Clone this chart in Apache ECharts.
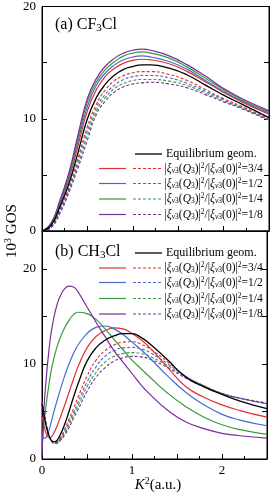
<!DOCTYPE html>
<html><head><meta charset="utf-8">
<script src="https://cdn.jsdelivr.net/npm/echarts@6/dist/echarts.min.js"></script>
<style>html,body{margin:0;padding:0;background:#fff}#c{width:270px;height:495px}</style>
</head><body><div id="c"></div><script>
// ---- Panel (a) CF3Cl ----
const kA = [0, 0.1, 0.2, 0.3, 0.4, 0.5, 0.6, 0.7, 0.8, 0.9, 1.0, 1.1, 1.2, 1.4, 1.6, 1.8, 2.0, 2.2, 2.5];
const aEq  = [0, 0.5, 2.2, 4.3, 7.1, 10.0, 11.9, 13.1, 13.9, 14.4, 14.65, 14.8, 14.8, 14.5, 13.9, 13.0, 12.1, 11.3, 10.1];
const aS34 = [0, 0.55, 2.4, 4.7, 7.7, 10.7, 12.6, 13.8, 14.5, 14.95, 15.2, 15.3, 15.25, 14.9, 14.2, 13.3, 12.35, 11.5, 10.4];
const aS12 = [0, 0.6, 2.5, 4.9, 8.1, 11.1, 13.0, 14.1, 14.8, 15.25, 15.5, 15.6, 15.5, 15.1, 14.4, 13.4, 12.45, 11.6, 10.5];
const aS14 = [0, 0.65, 2.7, 5.1, 8.4, 11.5, 13.3, 14.4, 15.1, 15.6, 15.85, 15.95, 15.85, 15.4, 14.6, 13.6, 12.6, 11.7, 10.6];
const aS18 = [0, 0.7, 2.8, 5.3, 8.7, 11.8, 13.6, 14.7, 15.4, 15.85, 16.1, 16.2, 16.1, 15.6, 14.8, 13.8, 12.7, 11.8, 10.7];
const aD34 = [0, 0.45, 2.0, 4.0, 6.6, 9.3, 11.3, 12.6, 13.4, 13.85, 14.1, 14.2, 14.2, 13.95, 13.4, 12.6, 11.8, 11.1, 10.0];
const aD12 = [0, 0.4, 1.9, 3.8, 6.3, 8.9, 11.0, 12.2, 13.0, 13.5, 13.75, 13.85, 13.85, 13.65, 13.15, 12.45, 11.7, 11.0, 9.95];
const aD14 = [0, 0.35, 1.75, 3.65, 6.0, 8.5, 10.7, 11.9, 12.7, 13.15, 13.4, 13.5, 13.5, 13.35, 12.95, 12.3, 11.6, 10.95, 9.9];
const aD18 = [0, 0.3, 1.6, 3.5, 5.7, 8.1, 10.4, 11.6, 12.4, 12.85, 13.1, 13.2, 13.25, 13.1, 12.75, 12.15, 11.5, 10.9, 9.85];

// ---- Panel (b) CH3Cl ----
const kB = [0, 0.02, 0.05, 0.08, 0.1, 0.13, 0.16, 0.2, 0.25, 0.3, 0.35, 0.4, 0.5, 0.6, 0.7, 0.8, 0.9, 1.0, 1.1, 1.2, 1.4, 1.6, 1.8, 2.0, 2.2, 2.5];
const bEq  = [5.8, 4.8, 3.3, 2.4, 2.0, 1.8, 1.9, 2.5, 3.6, 5.0, 6.5, 7.9, 10.3, 11.7, 12.5, 12.95, 13.2, 13.2, 12.8, 12.1, 10.4, 8.6, 7.6, 6.8, 6.1, 5.3];
const bS34 = [4.5, 3.6, 2.6, 2.25, 2.3, 2.7, 3.3, 4.3, 5.6, 7.0, 8.4, 9.7, 11.7, 12.9, 13.5, 13.8, 13.7, 13.2, 12.55, 11.7, 9.6, 7.6, 6.5, 5.7, 5.1, 4.4];
const bS12 = [3.0, 2.2, 2.3, 3.1, 3.8, 4.9, 5.9, 7.2, 8.7, 10.0, 11.1, 12.0, 13.2, 13.85, 14.0, 13.7, 13.1, 12.3, 11.5, 10.6, 8.7, 7.0, 5.7, 4.7, 4.1, 3.5];
const bS14 = [1.0, 3.5, 6.0, 8.0, 9.2, 10.5, 11.6, 12.7, 13.8, 14.6, 15.2, 15.45, 15.3, 14.7, 13.7, 12.6, 11.5, 10.4, 9.5, 8.6, 6.9, 5.5, 4.4, 3.6, 3.1, 2.6];
const bS18 = [0.3, 5.0, 8.8, 11.7, 13.2, 14.8, 16.0, 17.1, 17.9, 18.2, 18.1, 17.6, 16.0, 14.4, 12.9, 11.4, 10.2, 9.0, 7.8, 6.8, 5.1, 3.9, 3.2, 2.7, 2.45, 2.2];
const bD34 = [6.0, 5.0, 3.5, 2.5, 2.1, 1.75, 1.8, 2.2, 3.1, 4.2, 5.3, 6.5, 8.7, 10.4, 11.4, 12.0, 12.3, 12.35, 12.1, 11.6, 10.2, 8.7, 7.7, 6.9, 6.4, 5.8];
const bD12 = [6.0, 5.0, 3.5, 2.5, 2.05, 1.7, 1.75, 2.1, 2.9, 3.9, 4.9, 6.0, 8.1, 9.7, 10.8, 11.4, 11.7, 11.75, 11.6, 11.2, 10.0, 8.7, 7.7, 6.9, 6.4, 5.8];
const bD14 = [6.0, 5.0, 3.5, 2.45, 2.0, 1.7, 1.7, 2.0, 2.7, 3.6, 4.6, 5.6, 7.6, 9.1, 10.2, 10.8, 11.1, 11.2, 11.1, 10.8, 9.8, 8.6, 7.7, 6.9, 6.4, 5.9];
const bD18 = [6.0, 5.0, 3.5, 2.4, 2.0, 1.65, 1.65, 1.9, 2.5, 3.3, 4.3, 5.2, 7.1, 8.6, 9.6, 10.3, 10.65, 10.8, 10.75, 10.5, 9.6, 8.5, 7.6, 6.9, 6.4, 5.9];

// ---- Axis tick labels & legend text ----
const yTickLabels = [0, 10, 20];
const xTickLabels = [0, 1, 2];
const fracs = ['3/4', '1/2', '1/4', '1/8'];
const eqLabel = 'Equilibrium geom.';

const SERIF = "'Liberation Serif','DejaVu Serif',serif";
const colors = ['#e3302f', '#4a6cc8', '#3d983d', '#7a2e9c'];
const BLACK = '#000';

function pairs(k, v) { return k.map((x, i) => [x, v[i]]); }

const chart = echarts.init(document.getElementById('c'), null, {renderer: 'canvas'});

function line(grid, k, v, color, width, dash) {
  return {
    type: 'line', xAxisIndex: grid, yAxisIndex: grid, data: pairs(k, v), showSymbol: false,
    smooth: true, silent: true,
    lineStyle: {color: color, width: width, type: dash ? [3, 2] : 'solid', cap: 'butt', join: 'round'}
  };
}
function mkSeries(grid, k, eq, solids, dashes) {
  const out = [];
  dashes.forEach((d, i) => out.push(line(grid, k, d, colors[i], 1.1, true)));
  solids.forEach((s, i) => out.push(line(grid, k, s, colors[i], 1.2, false)));
  out.push(line(grid, k, eq, BLACK, 1.3, false));
  return out;
}

const series = [].concat(
  mkSeries(0, kA, aEq, [aS34, aS12, aS14, aS18], [aD34, aD12, aD14, aD18]),
  mkSeries(1, kB, bEq, [bS34, bS12, bS14, bS18], [bD34, bD12, bD14, bD18])
);

function xAx(grid, showLabel) {
  return {
    type: 'value', gridIndex: grid, min: 0, max: 2.5, interval: 0.5,
    axisLine: {show: true, onZero: false, lineStyle: {color: BLACK, width: 1}},
    axisTick: {show: true, inside: true, length: 5, lineStyle: {color: BLACK}},
    minorTick: {show: true, splitNumber: 2, length: 3, lineStyle: {color: BLACK}},
    splitLine: {show: false}, minorSplitLine: {show: false},
    axisLabel: {show: showLabel, fontFamily: SERIF, fontSize: 13, color: BLACK, margin: 5,
      formatter: v => xTickLabels.indexOf(v) >= 0 ? String(v) : ''}
  };
}
function yAx(grid, max, pos, showLabel) {
  return {
    type: 'value', gridIndex: grid, min: 0, max: max, interval: 5, position: pos,
    axisLine: {show: true, onZero: false, lineStyle: {color: BLACK, width: 1}},
    axisTick: {show: true, inside: true, length: 5, lineStyle: {color: BLACK}},
    splitLine: {show: false},
    axisLabel: {show: showLabel, fontFamily: SERIF, fontSize: 13, color: BLACK, margin: 6,
      formatter: v => yTickLabels.indexOf(v) >= 0 ? String(v) : ''}
  };
}

const richBase = {
  n: {fontFamily: SERIF, fontSize: 11.5, lineHeight: 13, fill: BLACK},
  i: {fontFamily: SERIF, fontSize: 11.5, lineHeight: 13, fontStyle: 'italic', fill: BLACK},
  sb: {fontFamily: SERIF, fontSize: 7.5, lineHeight: 7, verticalAlign: 'bottom', fill: BLACK},
  sbi: {fontFamily: SERIF, fontSize: 7.5, lineHeight: 7, fontStyle: 'italic', verticalAlign: 'bottom', fill: BLACK},
  sp: {fontFamily: SERIF, fontSize: 7.5, lineHeight: 7, verticalAlign: 'top', fill: BLACK}
};
function fracText(f) {
  return '{n||}{i|ξ}{sbi|v}{sb|3}{n|(}{i|Q}{sb|3}{n|)|}{sp|2}{n|/|}{i|ξ}{sbi|v}{sb|3}{n|(0)|}{sp|2}{n|=' + f + '}';
}

function legend(eqY, rowYs) {
  const g = [];
  g.push({type: 'line', shape: {x1: 135, y1: eqY, x2: 162, y2: eqY}, style: {stroke: BLACK, lineWidth: 1.3}});
  g.push({type: 'text', x: 166, y: eqY, style: {text: eqLabel, font: '12px ' + SERIF, fill: BLACK, verticalAlign: 'middle', align: 'left'}});
  rowYs.forEach((y, i) => {
    g.push({type: 'line', shape: {x1: 99, y1: y, x2: 126, y2: y}, style: {stroke: colors[i], lineWidth: 1.2}});
    g.push({type: 'line', shape: {x1: 133, y1: y, x2: 162, y2: y}, style: {stroke: colors[i], lineWidth: 1.1, lineDash: [3, 2]}});
    g.push({type: 'text', x: 164.5, y: y, style: {text: fracText(fracs[i]), rich: richBase, verticalAlign: 'middle', align: 'left'}});
  });
  return g;
}

const titleRich = {
  t: {fontFamily: SERIF, fontSize: 16, lineHeight: 18, fill: BLACK},
  s: {fontFamily: SERIF, fontSize: 11, lineHeight: 11, verticalAlign: 'bottom', fill: BLACK}
};

const graphic = [].concat(
  [{type: 'text', x: 55, y: 25, style: {text: '{t|(a) CF}{s|3}{t|Cl}', rich: titleRich, verticalAlign: 'middle', align: 'left'}},
   {type: 'text', x: 55, y: 252, style: {text: '{t|(b) CH}{s|3}{t|Cl}', rich: titleRich, verticalAlign: 'middle', align: 'left'}},
   {type: 'text', x: 12, y: 231, rotation: Math.PI / 2,
    style: {text: '{t|10}{p|3}{t| GOS}', align: 'center', verticalAlign: 'middle',
      rich: {t: {fontFamily: SERIF, fontSize: 15, lineHeight: 17, fill: BLACK},
             p: {fontFamily: SERIF, fontSize: 10, lineHeight: 10, verticalAlign: 'top', fill: BLACK}}}},
   {type: 'text', x: 158, y: 485,
    style: {text: '{i|K}{p|2}{t|(a.u.)}', align: 'center', verticalAlign: 'middle',
      rich: {t: {fontFamily: SERIF, fontSize: 15, lineHeight: 17, fill: BLACK},
             i: {fontFamily: SERIF, fontSize: 15, lineHeight: 17, fontStyle: 'italic', fill: BLACK},
             p: {fontFamily: SERIF, fontSize: 10, lineHeight: 10, verticalAlign: 'top', fill: BLACK}}}}],
  legend(154, [168.5, 183.5, 199, 214.5]),
  legend(253, [268, 282.5, 298.5, 314])
);

chart.setOption({
  animation: false,
  backgroundColor: '#fff',
  grid: [
    {left: 42, top: 6, width: 227, height: 225, show: true, borderColor: BLACK, borderWidth: 1, backgroundColor: 'transparent'},
    {left: 42, top: 231, width: 227, height: 228, show: true, borderColor: BLACK, borderWidth: 1, backgroundColor: 'transparent'}
  ],
  xAxis: [xAx(0, false), xAx(1, true)],
  yAxis: [yAx(0, 20, 'left', true), yAx(1, 24, 'left', true), yAx(0, 20, 'right', false), yAx(1, 24, 'right', false)],
  series: series,
  graphic: graphic
});
</script></body></html>
